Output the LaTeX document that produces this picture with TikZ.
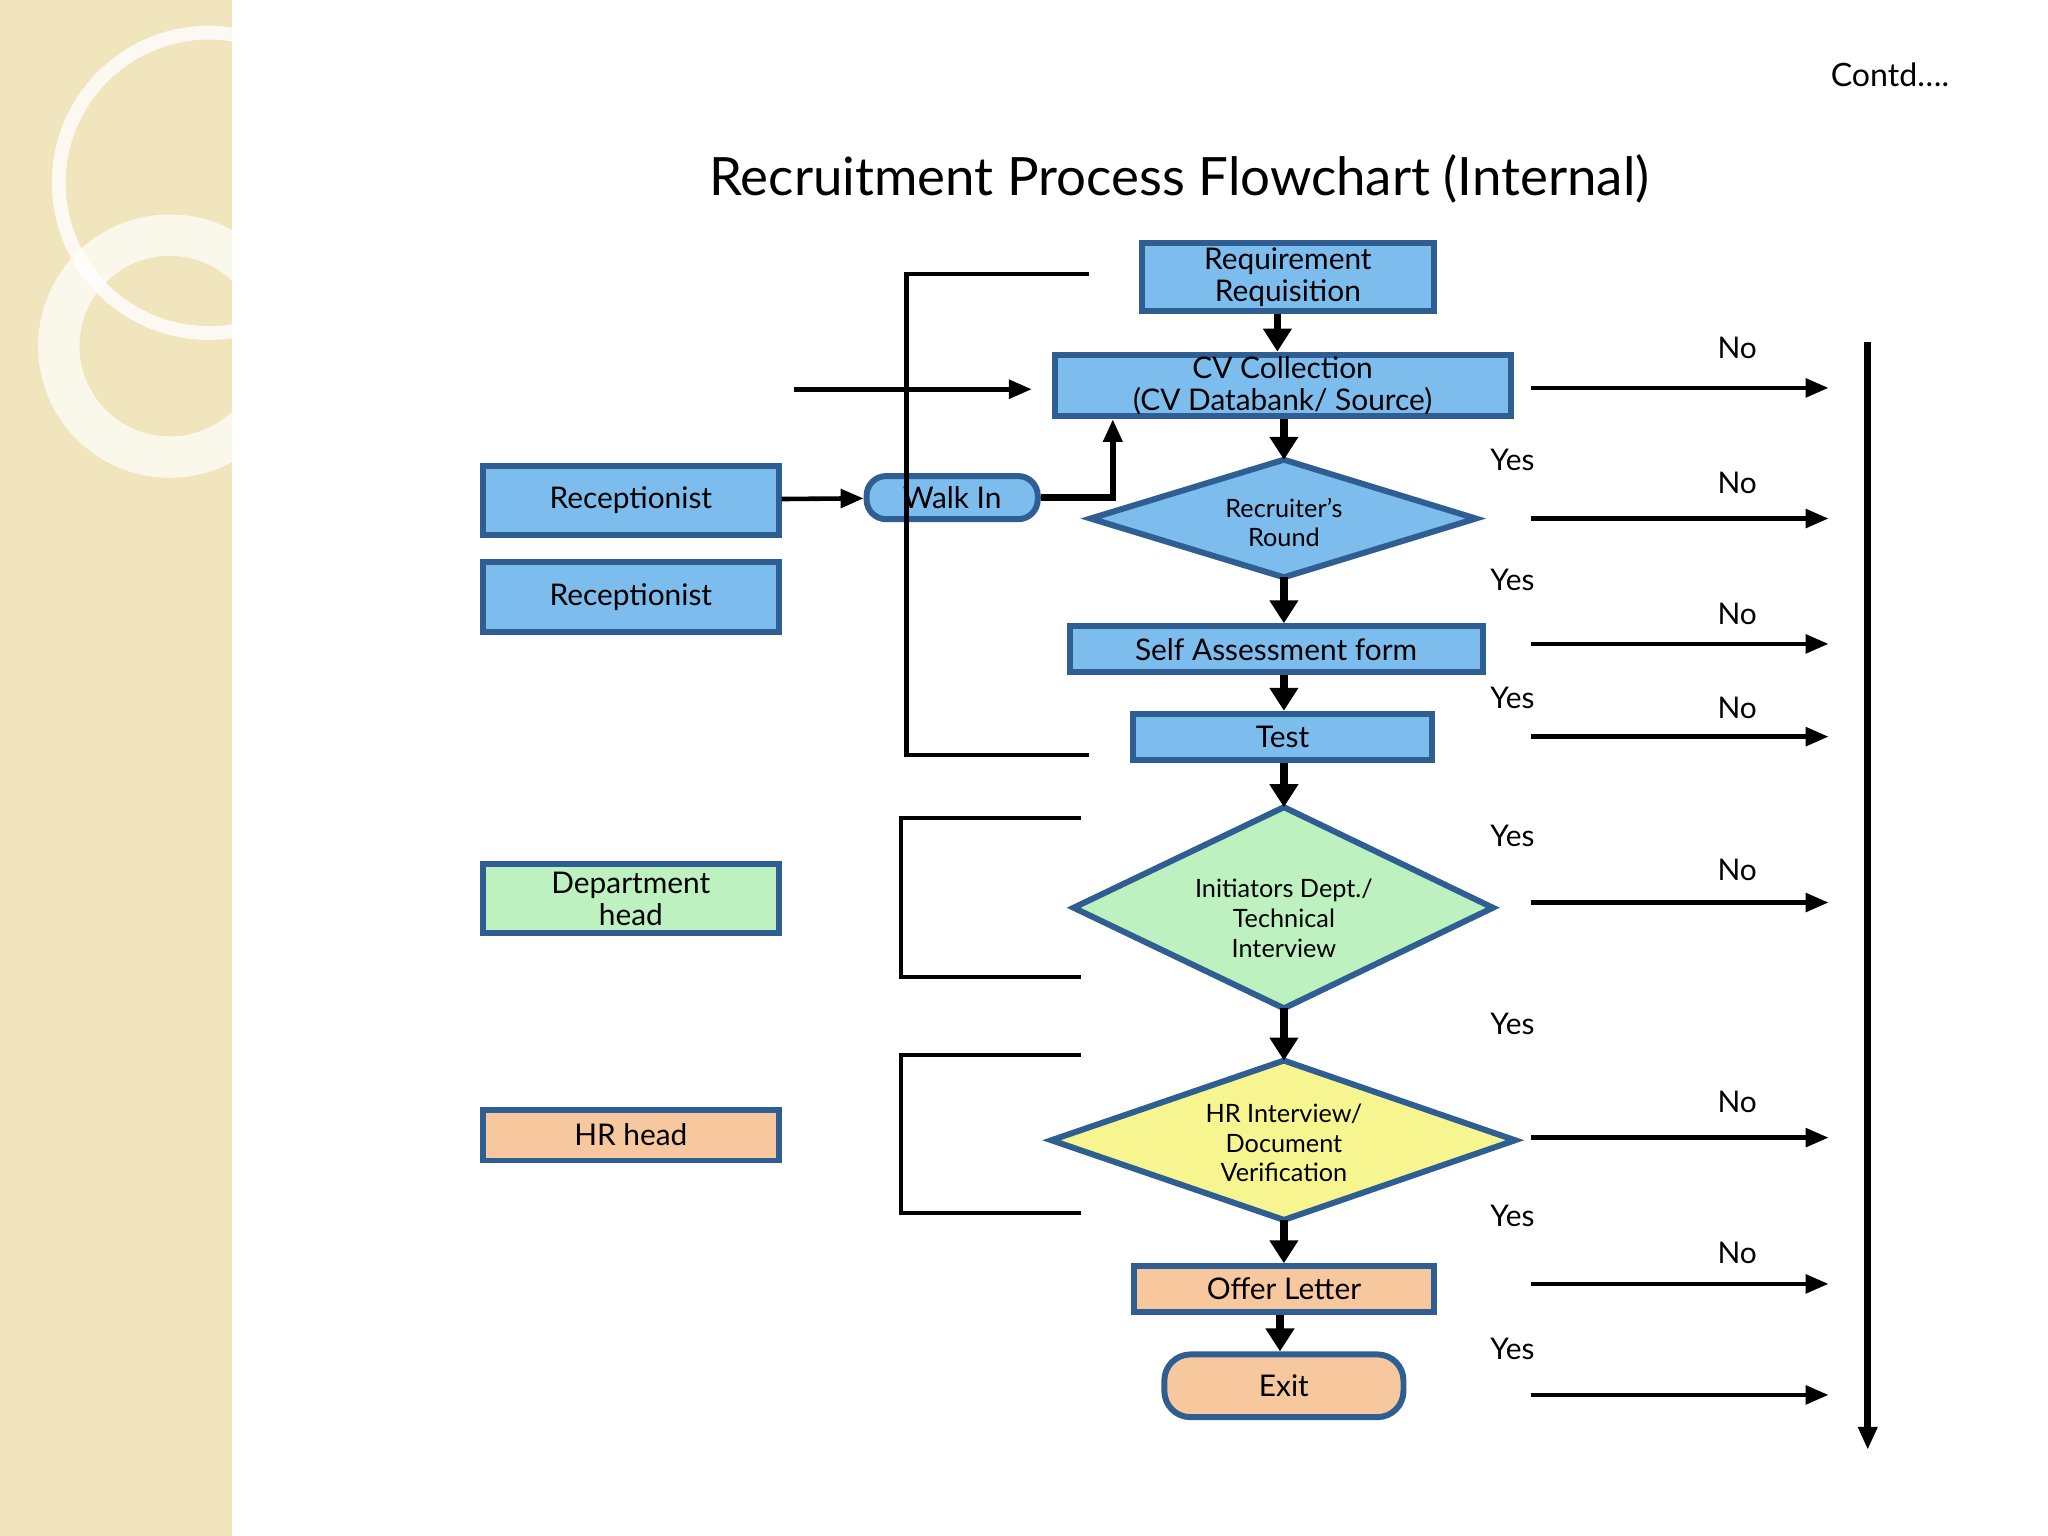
\documentclass[tikz,border=0pt]{standalone}
\usepackage{fontspec}
\setmainfont{Lato}
\usetikzlibrary{shapes.geometric,arrows.meta}
\definecolor{bl}{HTML}{7DBDEE}
\definecolor{gr}{HTML}{BDF2C0}
\definecolor{ye}{HTML}{F6F590}
\definecolor{or}{HTML}{F7C89E}
\definecolor{bd}{HTML}{2F5E92}
\definecolor{beige}{HTML}{F1E5BE}
\begin{document}
\begin{tikzpicture}[x=0.01cm,y=-0.01cm,
 box/.style={draw=bd,line width=1.3pt,inner sep=0,align=center,font=\fontsize{6.5}{7}\selectfont},
 dtxt/.style={inner sep=0,align=center,font=\fontsize{5.5}{6.5}\selectfont},
 dline/.style={draw=bd,line width=1.3pt},
 lab/.style={font=\fontsize{6.5}{7}\selectfont},
 dn/.style={-{Triangle[length=5pt,width=6pt]},line width=1.6pt},
 ar/.style={-{Triangle[length=5pt,width=4pt]},line width=1pt},
 br/.style={line width=0.9pt}]
\useasboundingbox (0,0) rectangle (1568,1176);
\fill[white] (0,0) rectangle (1568,1176);
\fill[beige] (0,0) rectangle (178,1176);
\begin{scope}
\clip (0,0) rectangle (178,1176);
\draw[white,line width=3pt,opacity=.8] (160,140) circle (115);
\draw[white,line width=9pt,opacity=.7] (130,265) circle (85);
\end{scope}
\node[font=\fontsize{7}{8}\selectfont] (contd) at (1447,57) {Contd….};
\node[font=\fontsize{11.5}{13}\selectfont] (title) at (903,137) {Recruitment Process Flowchart (Internal)};
\node[box,fill=bl,minimum width=2.23cm,minimum height=0.52cm] (req) at (986,212) {Requirement\\Requisition};
\node[box,fill=bl,minimum width=3.49cm,minimum height=0.47cm] (cv) at (982,295) {CV Collection\\(CV Databank/ Source)};
% diamonds
\coordinate (rrT) at (983,352); \coordinate (rrB) at (983,442);
\filldraw[dline,fill=bl] (835,397) -- (rrT) -- (1130,397) -- (rrB) -- cycle;
\node[dtxt] (rr) at (983,400) {Recruiter's\\Round};
\node[box,fill=bl,minimum width=3.16cm,minimum height=0.35cm] (sa) at (977,497) {Self Assessment form};
\node[box,fill=bl,minimum width=2.29cm,minimum height=0.35cm] (test) at (982,564) {Test};
\coordinate (iniT) at (983,618); \coordinate (iniB) at (983,772);
\filldraw[dline,fill=gr] (822,695) -- (iniT) -- (1143,695) -- (iniB) -- cycle;
\node[dtxt] (ini) at (983,703) {Initiators Dept./\\Technical\\Interview};
\coordinate (hrT) at (983,812); \coordinate (hrB) at (983,934);
\filldraw[dline,fill=ye] (805,873) -- (hrT) -- (1160,873) -- (hrB) -- cycle;
\node[dtxt] (hr) at (983,875) {HR Interview/\\Document\\Verification};
\node[box,fill=or,minimum width=2.3cm,minimum height=0.35cm] (off) at (983,987) {Offer Letter};
\node[box,fill=or,rounded corners=0.2cm,minimum width=1.83cm,minimum height=0.48cm] (exit) at (983,1061) {Exit};
\node[box,fill=bl,minimum width=2.26cm,minimum height=0.53cm] (rec1) at (483,383) {Receptionist};
\node[box,fill=bl,minimum width=2.26cm,minimum height=0.53cm] (rec2) at (483,457) {Receptionist};
\node[box,fill=gr,minimum width=2.26cm,minimum height=0.53cm] (dh) at (483,688) {Department\\head};
\node[box,fill=or,minimum width=2.26cm,minimum height=0.39cm] (hrh) at (483,869) {HR head};
\node[box,fill=bl,rounded corners=0.15cm,minimum width=1.31cm,minimum height=0.33cm] (walk) at (729,381) {Walk In};
\draw[dn] (req.south-|978,0) -- (cv.north-|978,0);
\draw[dn] (cv.south-|983,0) -- (rrT);
\draw[dn] (rrB) -- (sa.north-|rrB);
\draw[dn] (sa.south-|983,0) -- (test.north-|983,0);
\draw[dn] (test.south-|983,0) -- (iniT);
\draw[dn] (iniB) -- (hrT);
\draw[dn] (hrB) -- (off.north);
\draw[dn] (off.south-|980,0) -- (exit.north-|980,0);
\draw[ar] (rec1) -- (walk);
\coordinate (wk) at (852,381);
\draw[ar,line width=1.4pt] (walk) -- (wk) -- (cv.south-|wk);
\coordinate (in0) at (608,298); \coordinate (in1) at (790,298);
\draw[ar] (in0) -- (in1);
\draw[br] (834,210) -- (694,210) -- (694,578) -- (834,578);
\draw[br] (828,626) -- (690,626) -- (690,748) -- (828,748);
\draw[br] (828,808) -- (690,808) -- (690,929) -- (828,929);
\coordinate (vt) at (1430,262); \coordinate (vb) at (1430,1110);
\draw[ar,line width=1.6pt] (vt) -- (vb);
\foreach \y in {297,397,493,564,691,871,983,1068}{\draw[ar] (1172,\y) -- (1400,\y);}
\foreach \y in {266,370,470,542,666,844,959}{\node[lab] at (1330,\y) {No};}
\foreach \y in {352,444,534,640,784,931,1033}{\node[lab] at (1158,\y) {Yes};}
\end{tikzpicture}
\end{document}
